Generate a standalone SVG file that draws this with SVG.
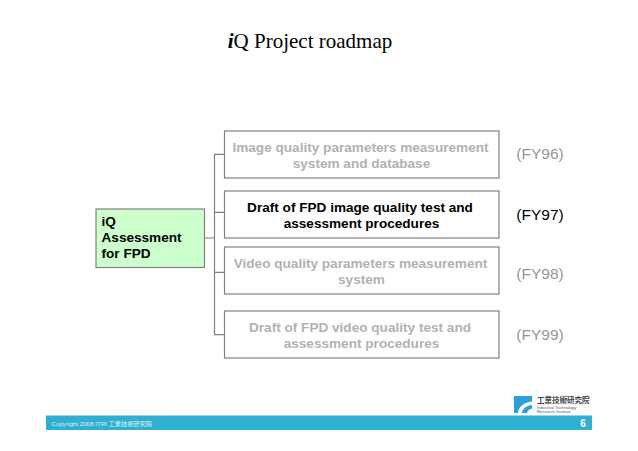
<svg xmlns="http://www.w3.org/2000/svg" width="638" height="451" viewBox="0 0 638 451">
<style>
text{font-family:"Liberation Sans",Arial,sans-serif}
.b{fill:#fff;stroke:#808080;stroke-width:1.2}
.t{font-size:13.6px;font-weight:bold;text-anchor:middle;fill:#b2b2b2}
.y{font-size:15.5px;text-anchor:middle;fill:#969696}
.c{fill:none;stroke:#808080;stroke-width:1.2}
.d{fill:#000}
.r{font-size:13.6px;font-weight:bold;fill:#000}
</style>
<rect width="638" height="451" fill="#fff"/>
<text x="310" y="48" text-anchor="middle" style="font-family:'Liberation Serif',serif;font-size:21px" fill="#000"><tspan font-style="italic" font-weight="bold">i</tspan>Q Project roadmap</text>
<g id="connectors">
<path class="c" d="M204.500 238H214.500M224.500 154.300H214.500V334.700H224.500M214.500 212.300H224.500M214.500 272.300H224.500"/>
</g>
<g id="root">
<rect x="96" y="209" width="108.500" height="58.500" fill="#ccffcc" stroke="#808080" stroke-width="1.200"/>
<text class="r" x="101.500" y="225.500">iQ</text>
<text class="r" x="101.500" y="241.800">Assessment</text>
<text class="r" x="101.500" y="258">for FPD</text>
</g>
<g id="n1">
<rect class="b" x="224.500" y="131" width="274.500" height="47"/>
<text class="t" x="360.500" y="152">Image quality parameters measurement</text>
<text class="t" x="361.500" y="168">system and database</text>
</g>
<g id="n2">
<rect class="b" x="224.500" y="191" width="274.500" height="47"/>
<text class="t d" x="360" y="212">Draft of FPD image quality test and</text>
<text class="t d" x="361.500" y="228">assessment procedures</text>
</g>
<g id="n3">
<rect class="b" x="224.500" y="247" width="274.500" height="47"/>
<text class="t" x="360.500" y="268">Video quality parameters measurement</text>
<text class="t" x="361.500" y="284">system</text>
</g>
<g id="n4">
<rect class="b" x="224.500" y="311" width="274.500" height="47"/>
<text class="t" x="360" y="332">Draft of FPD video quality test and</text>
<text class="t" x="361.500" y="348">assessment procedures</text>
</g>
<text class="y" x="540" y="159">(FY96)</text>
<text class="y d" x="540" y="220">(FY97)</text>
<text class="y" x="540" y="279">(FY98)</text>
<text class="y" x="540" y="340">(FY99)</text>
<rect x="46" y="415.500" width="546" height="14.500" fill="#2fb0d0"/>
<text x="51.500" y="426" font-size="6.200" fill="#fff" fill-opacity="0.85" style="font-family:'Liberation Sans','Noto Sans CJK TC',sans-serif">Copyright 2008 ITRI 工業技術研究院</text>
<text x="583" y="426.500" font-size="10" font-weight="bold" text-anchor="middle" fill="#fff">6</text>
<path d="M514 396H532V413H514Z" fill="#2a9fd8"/>
<path d="M518 413.500C518 407 524 402 532 401.500V405C526 405.500 522 409 522 413.500ZM527 413.500C527 411 529 409 532 408.500V413.500Z" fill="#fff"/>
<text x="537" y="403" font-size="7.500" font-weight="bold" fill="#444" style="font-family:'Noto Sans CJK TC',sans-serif">工業技術研究院</text>
<text x="537" y="408.500" font-size="4.200" fill="#555">Industrial Technology</text>
<text x="537" y="413" font-size="4.200" fill="#555">Research Institute</text>
</svg>
